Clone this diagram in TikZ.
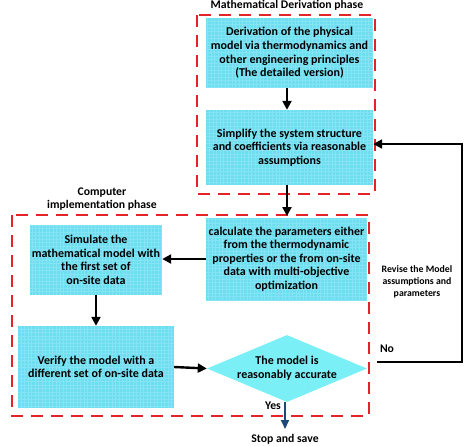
\documentclass[tikz,border=0pt]{standalone}
\usepackage{fontspec}
\setmainfont{Carlito}
\usetikzlibrary{shapes.geometric,arrows.meta}
\definecolor{boxfill}{RGB}{108,222,240}
\definecolor{gridln}{RGB}{132,228,244}
\definecolor{diafill}{RGB}{122,240,246}
\definecolor{dashred}{RGB}{228,34,40}
\definecolor{yesblue}{RGB}{31,70,120}
\tikzset{
  procbox/.style={fill=boxfill, align=center, font=\fontsize{12}{13.6}\selectfont\bfseries, inner sep=1pt,
    path picture={\draw[gridln, line width=0.4pt] (path picture bounding box.south west) grid[step=3.5pt] (path picture bounding box.north east);}},
  decbox/.style={shape=diamond, fill=diafill, align=center, font=\fontsize{12}{13.6}\selectfont\bfseries, inner sep=-2pt, aspect=2.4},
  phase/.style={draw=dashred, line width=1.4pt, dash pattern=on 12pt off 8pt},
  flow/.style={line width=2.4pt, -{Triangle[length=9pt,width=9pt]}},
  lbl/.style={font=\fontsize{11.7}{13}\selectfont\bfseries, align=center},
  slbl/.style={font=\fontsize{9.8}{12}\selectfont\bfseries, align=center}
}
\begin{document}
\begin{tikzpicture}[x=1pt,y=-1pt]
\useasboundingbox (0,0) rectangle (474,445);
% phase frames
\draw[phase] (197,15) rectangle (375,194);
\draw[phase] (12,215) rectangle (369,416);
\node[lbl] (t1) at (287,5) {Mathematical Derivation phase};
\node[lbl] (t2) at (102,199.5) {Computer\\implementation phase};
% process boxes
\node[procbox, minimum width=167pt, minimum height=70pt] (b1) at (289.5,53)
  {Derivation of the physical\\model via thermodynamics and\\other engineering principles\\(The detailed version)};
\node[procbox, minimum width=167pt, minimum height=75pt] (b2) at (289.5,147.5)
  {Simplify the system structure\\and coefficients via reasonable\\assumptions};
\node[procbox, minimum width=161pt, minimum height=82pt] (b3) at (286.5,259)
  {calculate the parameters either\\from the thermodynamic\\properties or the from on-site\\data with multi-objective\\optimization};
\node[procbox, minimum width=132pt, minimum height=70pt] (b4) at (96,260)
  {Simulate the\\mathematical model with\\the first set of\\on-site data};
\node[procbox, minimum width=156pt, minimum height=82pt] (b5) at (96,367)
  {Verify the model with a\\different set of on-site data};
\node[decbox, minimum width=160pt, minimum height=67pt] (d) at (287,368.5)
  {The model is\\reasonably accurate};
\node[lbl] (stop) at (285,439) {Stop and save};
\node[lbl] (yes) at (273,406) {Yes};
\node[lbl] (no) at (387,349) {No};
\node[slbl] (rev) at (417,282) {Revise the Model\\assumptions and\\parameters};
% connectors
\draw[flow] (b1.south -| 287,0) -- (b2.north -| 287,0);
\draw[flow] (b2.south -| 287,0) -- (287,216);
\draw[flow] (b3.west |- 0,259) -- (b4.east |- 0,259);
\draw[flow] (b4.south) -- (b5.north);
\draw[flow] (b5.east) -- (d.west);
\draw[yesblue, line width=2pt, -{Triangle[length=9pt,width=8pt]}] (d.south -| 285,0) -- (285,429);
\coordinate (nostart) at (377,362);
\coordinate (c1) at (462,362);
\coordinate (c2) at (462,144);
\draw[flow] (nostart) -- (c1) -- (c2) -- (b2.east |- c2);
\end{tikzpicture}
\end{document}
